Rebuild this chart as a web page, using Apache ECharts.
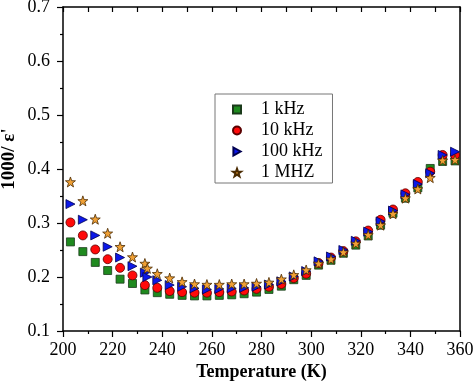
<!DOCTYPE html>
<html>
<head>
<meta charset="utf-8">
<script src="https://cdn.jsdelivr.net/npm/echarts@6/dist/echarts.min.js"></script>
<style>html,body{margin:0;padding:0;background:#fff}#c{width:474px;height:382px}</style>
</head>
<body>
<div id="c"></div>
<script>
var temps = [203,208,213,218,223,228,233,238,243,248,253,258,263,268,273,278,283,288,293,298,303,308,313,318,323,328,333,338,343,348,353,358];
var v1kHz = [0.265,0.247,0.227,0.212,0.196,0.188,0.176,0.171,0.168,0.166,0.165,0.165,0.166,0.167,0.169,0.172,0.177,0.183,0.195,0.203,0.222,0.231,0.244,0.259,0.276,0.296,0.318,0.346,0.365,0.401,0.414,0.415];
var v10kHz = [0.301,0.277,0.251,0.233,0.217,0.203,0.185,0.180,0.174,0.172,0.171,0.171,0.172,0.173,0.175,0.178,0.182,0.187,0.198,0.206,0.226,0.236,0.248,0.266,0.286,0.306,0.325,0.355,0.376,0.395,0.426,0.426];
var v100kHz = [0.335,0.306,0.277,0.256,0.236,0.220,0.208,0.194,0.185,0.182,0.179,0.177,0.178,0.179,0.180,0.182,0.186,0.192,0.201,0.211,0.229,0.238,0.250,0.267,0.284,0.303,0.323,0.353,0.372,0.392,0.426,0.432];
var v1MHz = [0.376,0.341,0.307,0.281,0.256,0.237,0.225,0.206,0.198,0.191,0.187,0.186,0.186,0.187,0.187,0.188,0.190,0.196,0.204,0.213,0.225,0.233,0.246,0.262,0.278,0.296,0.317,0.346,0.363,0.384,0.416,0.417];
// extra overlapping readings near 234 K
var extraT = [234];
var extra100kHz = [0.200];
var extra1MHz = [0.216];
var names = ['1 kHz','10 kHz','100 kHz','1 MHZ'];
var xTicks = [200,220,240,260,280,300,320,340,360];
var yTicks = [0.1,0.2,0.3,0.4,0.5,0.6,0.7];

function pairs(t, v){ return t.map(function(x,i){ return [x, v[i]]; }); }

var starPath = 'path://M0,-10 L2.35,-3.24 L9.51,-3.09 L3.80,1.24 L5.88,8.09 L0,4.2 L-5.88,8.09 L-3.80,1.24 L-9.51,-3.09 L-2.35,-3.24 Z';
var triPath = 'path://M0,0 L9,5 L0,10 Z';
var font = 'Liberation Serif';
var chart = echarts.init(document.getElementById('c'));
chart.setOption({
  animation: false,
  backgroundColor: '#fff',
  grid: { left: 63, right: 14, top: 7, bottom: 51, outerBoundsMode: 'none', containLabel: false },
  legend: {
    orient: 'vertical',
    left: 215, top: 94,
    data: names,
    padding: [5, 10, 0, 17],
    itemGap: 0,
    itemWidth: 8, itemHeight: 8,
    borderColor: '#777', borderWidth: 1, borderRadius: 0,
    textStyle: { fontFamily: font, fontSize: 18, color: '#000', lineHeight: 21, padding: [0,0,0,15] }
  },
  xAxis: [{
    type: 'value', min: xTicks[0], max: xTicks[xTicks.length-1], interval: 20,
    name: 'Temperature (K)', nameLocation: 'middle', nameGap: 32, nameMoveOverlap: false,
    nameTextStyle: { fontFamily: font, fontSize: 18, fontWeight: 'bold', color: '#000' },
    axisLine: { show: true, onZero: false, lineStyle: { color: '#000', width: 1.5 } },
    axisTick: { show: true, inside: false, length: 6, lineStyle: { color: '#000', width: 1.2 } },
    minorTick: { show: true, splitNumber: 2, length: 3, lineStyle: { color: '#000', width: 1.2 } },
    axisLabel: { fontFamily: font, fontSize: 18, color: '#000', margin: 10 },
    splitLine: { show: false }
  }, {
    type: 'value', position: 'top', min: xTicks[0], max: xTicks[xTicks.length-1], interval: 10,
    axisLine: { show: true, onZero: false, lineStyle: { color: '#000', width: 1.5 } },
    axisTick: { show: true, inside: true, length: 5, lineStyle: { color: '#000', width: 1.2 } },
    axisLabel: { show: false },
    splitLine: { show: false }
  }],
  yAxis: [{
    type: 'value', min: yTicks[0], max: yTicks[yTicks.length-1], interval: 0.1,
    name: "1000/ ε'", nameLocation: 'middle', nameGap: 44, nameRotate: 90, nameMoveOverlap: false,
    nameTextStyle: { fontFamily: font, fontSize: 19, fontWeight: 'bold', color: '#000', padding: [0,0,0,20] },
    axisLine: { show: true, onZero: false, lineStyle: { color: '#000', width: 1.5 } },
    axisTick: { show: true, inside: false, length: 6, lineStyle: { color: '#000', width: 1.2 } },
    minorTick: { show: true, splitNumber: 2, length: 3, lineStyle: { color: '#000', width: 1.2 } },
    axisLabel: { fontFamily: font, fontSize: 18, color: '#000', margin: 13, formatter: function(v){ return v.toFixed(1); } },
    splitLine: { show: false }
  }, {
    type: 'value', position: 'right', min: yTicks[0], max: yTicks[yTicks.length-1], interval: 0.1,
    axisLine: { show: true, onZero: false, lineStyle: { color: '#000', width: 1.5 } },
    axisTick: { show: false }, axisLabel: { show: false }, splitLine: { show: false }
  }],
  series: [
    { name: names[0], type: 'scatter', symbol: 'rect', symbolSize: 8, data: pairs(temps, v1kHz),
      itemStyle: { color: '#1f8a1f', borderColor: '#1a3a1a', borderWidth: 0.8, opacity: 1 } },
    { name: names[1], type: 'scatter', symbol: 'circle', symbolSize: 9, data: pairs(temps, v10kHz),
      itemStyle: { color: '#ff0a0a', borderColor: '#5a0000', borderWidth: 0.8, opacity: 1 } },
    { name: names[2], type: 'scatter', symbol: triPath, symbolSize: 9,
      data: pairs(temps, v100kHz).concat(pairs(extraT, extra100kHz)),
      itemStyle: { color: '#0c18e8', borderColor: '#000050', borderWidth: 0.8, opacity: 1 } },
    { name: names[3], type: 'scatter', symbol: starPath, symbolSize: 10,
      data: pairs(temps, v1MHz).concat(pairs(extraT, extra1MHz)),
      itemStyle: { color: '#f0a035', borderColor: '#4a2a00', borderWidth: 0.8, opacity: 1 } }
  ]
});
</script>
</body>
</html>
